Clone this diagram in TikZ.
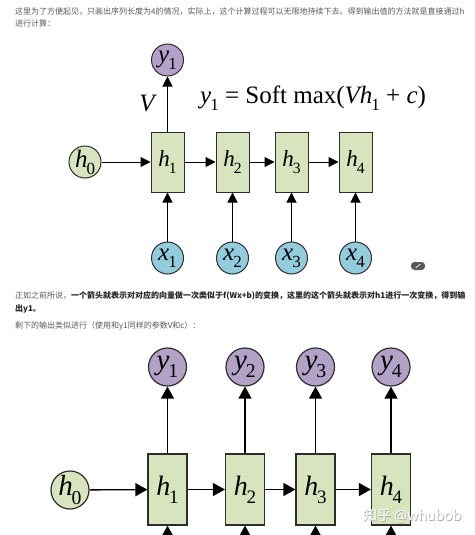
\documentclass[tikz,border=0pt]{standalone}
\usepackage{fontspec}
\usepackage{graphicx}
\usetikzlibrary{arrows.meta,positioning}
\newfontfamily\cjk{Noto Sans CJK SC}
\newfontfamily\tms{Liberation Serif}
\definecolor{cellgreen}{RGB}{215,228,189}
\definecolor{outpurple}{RGB}{179,162,199}
\definecolor{inblue}{RGB}{147,205,221}
\definecolor{edgegrey}{RGB}{45,45,45}
\definecolor{textgrey}{RGB}{90,90,90}
\definecolor{textdark}{RGB}{35,35,35}
% italic letter with a low upright index, as in the figure
\newcommand{\lbl}[2]{{\itshape #1}\kern-.04em\raisebox{-.28em}{\scalebox{.68}{#2}}}
\tikzset{
  cell/.style={draw=edgegrey,fill=cellgreen,inner sep=0pt},
  cellA/.style={cell,line width=1pt,minimum width=33pt,minimum height=60pt,
                font=\tms\fontsize{23}{23}\selectfont},
  cellB/.style={cell,line width=1.2pt,minimum width=39pt,minimum height=71pt,
                font=\tms\fontsize{28}{28}\selectfont},
  dot/.style={circle,draw=edgegrey,inner sep=0pt},
  dotA/.style={dot,line width=1pt,minimum size=32pt,font=\tms\fontsize{25}{25}\selectfont},
  dotB/.style={dot,line width=1.2pt,minimum size=38pt,font=\tms\fontsize{29}{29}\selectfont},
  hnode/.style={fill=cellgreen},
  ynode/.style={fill=outpurple},
  xnode/.style={fill=inblue},
  flowA/.style={-{Triangle[length=10pt,width=10pt]},line width=1pt},
  flowB/.style={-{Triangle[length=12pt,width=13pt]},line width=1.3pt},
  prose/.style={anchor=base west,inner sep=0pt,font=\cjk\fontsize{8}{12}\selectfont,
                text=textgrey},
  strong/.style={font=\cjk\bfseries\fontsize{8}{12}\selectfont,text=textdark},
}

\begin{document}
\begin{tikzpicture}[x=1pt,y=-1pt]
  \useasboundingbox (0,0) rectangle (474,535);
  \fill[white] (0,0) rectangle (474,535);
  \clip (0,0) rectangle (474,535);
  % text above the first figure
  \node[prose] (intro1) at (15,15) {这里为了方便起见，只画出序列长度为4的情况，实际上，这个计算过程可以无限地持续下去。得到输出值的方法就是直接通过h};
  \node[prose] (intro2) at (15,27) {进行计算：};
  % first figure: only y1
  \node[dotA,hnode] (hA0) at (85,162) {\lbl{h}{0}};
  \foreach \i/\x in {1/167.5,2/232.5,3/291.5,4/355.5}{
    \node[cellA] (hA\i) at (\x,162) {\lbl{h}{\i}};
    \node[dotA,xnode] (xA\i) at (\x,258) {\lbl{x}{\i}};
    \draw[flowA] (xA\i) -- (hA\i);
  }
  \draw[flowA] (hA0) -- (hA1);
  \foreach \a/\b in {1/2,2/3,3/4}{\draw[flowA] (hA\a) -- (hA\b);}
  \node[dotA,ynode] (yA1) at (167.5,60) {\lbl{y}{1}};
  \draw[flowA] (hA1) -- (yA1)
    node[midway,left=9pt,font=\tms\itshape\fontsize{25}{25}\selectfont] (vlabel) {V};
  \node[anchor=base west,inner sep=0pt,font=\tms\fontsize{25}{25}\selectfont] (softmax)
    at (200,103) {\lbl{y}{1} = Soft max({\itshape V}\lbl{h}{1} + {\itshape c})};
  \node[fill=black!65,rounded corners=3.5pt,minimum width=14pt,minimum height=8pt,
        inner sep=0pt] (expand) at (418,266) {};
  \draw[white,line width=.6pt,{Stealth[length=1.6pt]}-{Stealth[length=1.6pt]}]
    ([shift={(-2.5,2)}]expand.center) -- ([shift={(2.5,-2)}]expand.center);
  % text between the figures
  \node[prose] (remark1) at (15,298.5) {正如之前所说，{\bfseries\color{textdark}一个箭头就表示对对应的向量做一次类似于f(Wx+b)的变换，这里的这个箭头就表示对h1进行一次变换，得到输}};
  \node[prose,strong] (remark2) at (15,311) {出y1。};
  \node[prose] (rest) at (15,328.5) {剩下的输出类似进行（使用和y1同样的参数V和c）：};
  % second figure: all outputs
  \node[dotB,hnode] (hB0) at (70,490) {\lbl{h}{0}};
  \foreach \i/\x in {1/167.5,2/245,3/315.5,4/391}{
    \node[cellB] (hB\i) at (\x,489.5) {\lbl{h}{\i}};
    \node[dotB,ynode] (yB\i) at (\x,367) {\lbl{y}{\i}};
    \coordinate (inB\i) at (\x,560);
    \draw[flowB] (hB\i) -- (yB\i);
    \draw[flowB] (inB\i) -- (hB\i);
  }
  \draw[flowB] (hB0) -- (hB1);
  \foreach \a/\b in {1/2,2/3,3/4}{\draw[flowB] (hB\a) -- (hB\b);}
  % watermark
  \node[font=\cjk\fontsize{14}{14}\selectfont,text=black!35] (markshade)
    at (413,516.7) {知乎 @whubob};
  \node[font=\cjk\fontsize{14}{14}\selectfont,text=white] (mark)
    at (412.3,516) {知乎 @whubob};
\end{tikzpicture}
\end{document}
